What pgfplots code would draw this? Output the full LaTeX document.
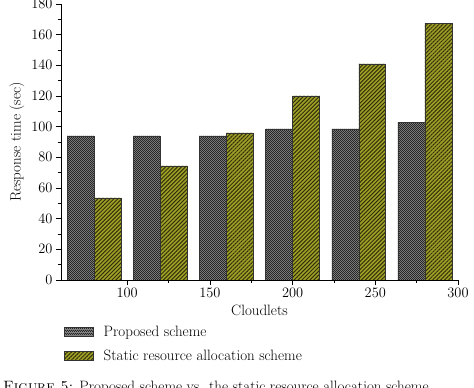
\documentclass[border=0pt]{standalone}
\usepackage{pgfplots}
\pgfplotsset{compat=1.18}
\usetikzlibrary{patterns,patterns.meta}
\definecolor{olivefill}{RGB}{160,160,40}
\definecolor{olivelines}{RGB}{50,50,10}
\definecolor{checklight}{RGB}{135,135,135}
\pgfdeclarepatternformonly{finecheck}{\pgfpointorigin}{\pgfpoint{2.4pt}{2.4pt}}{\pgfpoint{2.4pt}{2.4pt}}{%
  \pgfpathrectangle{\pgfpointorigin}{\pgfpoint{1.2pt}{1.2pt}}%
  \pgfpathrectangle{\pgfpoint{1.2pt}{1.2pt}}{\pgfpoint{1.2pt}{1.2pt}}%
  \pgfusepath{fill}}
\pgfplotsset{boxlegend/.style={legend image code/.code={\draw[##1] (0pt,-4.5pt) rectangle (29pt,4.5pt);}}}
\pgfplotstableread{
x y
80 94
120 94
160 94
200 98.5
240 98.5
280 103
}\proposed
\pgfplotstableread{
x y
80 53.5
120 74.5
160 96
200 120
240 141
280 167.5
}\static
\begin{document}
\begin{tikzpicture}
\begin{axis}[name=ax, at={(0,0)}, anchor=south west,
  scale only axis, width=397pt, height=276pt,
  xmin=60, xmax=300, ymin=0, ymax=180,
  xtick={100,150,...,300}, ytick={0,20,...,180},
  minor x tick num=1, minor y tick num=1,
  axis x line*=bottom, axis y line*=left,
  axis line style={-, line width=0.8pt},
  tick align=outside, major tick length=5pt, minor tick length=3pt,
  tick style={black, line width=0.6pt},
  ybar, bar width=16.3,
  font=\fontsize{15}{17}\selectfont,
  tick label style={font=\fontsize{15.5}{17}\selectfont},
  xlabel={Cloudlets}, ylabel={Response time (sec)},
  legend style={draw=none, fill=none, at={(0,0)}, anchor=north west,
    xshift=3pt, yshift=-46pt, row sep=12pt, inner sep=0pt,
    cells={anchor=west}, font=\fontsize{15}{17}\selectfont,
    nodes={inner xsep=5pt, inner ysep=0pt},
    /tikz/every odd column/.append style={column sep=5pt}},
]
\addplot[draw=black!80, line width=0.5pt, fill=checklight,
  postaction={pattern=finecheck, pattern color=black!85},
  bar shift=-8.15, boxlegend]
  table[x=x, y=y] {\proposed};
\addlegendentry{Proposed scheme}
\addplot[draw=black!80, line width=0.5pt, fill=olivefill,
  postaction={pattern={Lines[angle=45, distance=2.8pt, line width=1pt]}, pattern color=olivelines},
  bar shift=8.15, boxlegend]
  table[x=x, y=y] {\static};
\addlegendentry{Static resource allocation scheme}
\end{axis}
\node[anchor=north west, inner sep=0pt, font=\fontsize{15}{17}\selectfont]
  at ([xshift=-58pt, yshift=-101pt]ax.south west)
  {\textsc{Figure 5:} Proposed scheme vs. the static resource allocation scheme};
\pgfresetboundingbox
\useasboundingbox ([xshift=-61pt, yshift=-108pt]ax.south west) rectangle ([xshift=16pt, yshift=4pt]ax.north east);
\end{tikzpicture}
\end{document}
